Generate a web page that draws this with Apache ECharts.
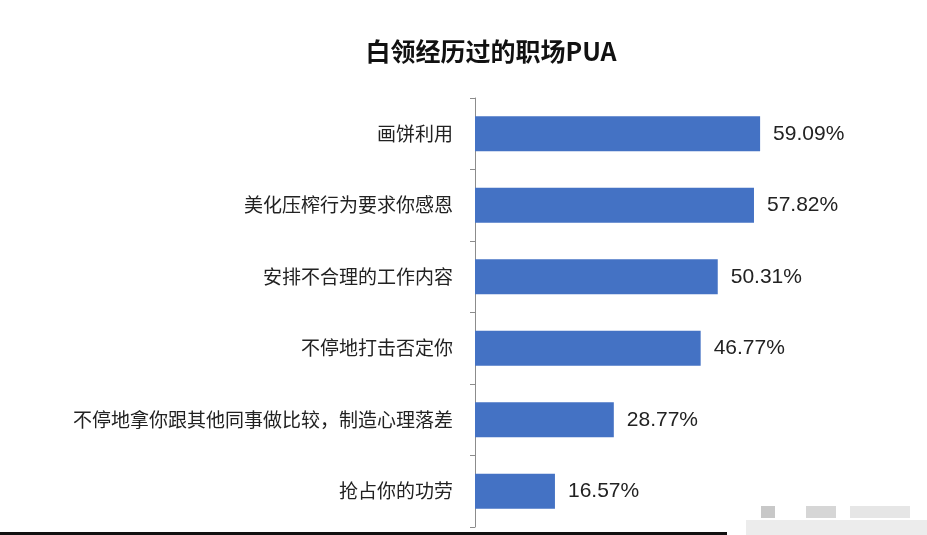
<!DOCTYPE html>
<html>
<head>
<meta charset="utf-8">
<script src="https://cdn.jsdelivr.net/npm/echarts@6/dist/echarts.min.js"></script>
<style>
html,body{margin:0;padding:0;background:#fff;}
#chart{width:927px;height:535px;}
</style>
</head>
<body>
<div id="chart"></div>
<script>
const titleText = '白领经历过的职场PUA';
const categories = [
  '画饼利用',
  '美化压榨行为要求你感恩',
  '安排不合理的工作内容',
  '不停地打击否定你',
  '不停地拿你跟其他同事做比较，制造心理落差',
  '抢占你的功劳'
];
const values = [59.09, 57.82, 50.31, 46.77, 28.77, 16.57];

const chart = echarts.init(document.getElementById('chart'));
const font = '"Noto Sans CJK SC", "Noto Sans", sans-serif';
chart.setOption({
  backgroundColor: '#ffffff',
  animation: false,
  title: {
    text: titleText,
    left: 486,
    top: 34,
    textAlign: 'center',
    textStyle: { fontFamily: font, fontSize: 25, fontWeight: 'bold', color: '#111' }
  },
  grid: { left: 475, top: 98, width: 386, height: 429, containLabel: false, outerBoundsMode: 'none' },
  xAxis: {
    type: 'value', min: 0, max: 80, show: false
  },
  yAxis: {
    type: 'category',
    data: categories,
    inverse: true,
    axisLine: { show: true, lineStyle: { color: '#8c8c8c', width: 1 } },
    axisTick: { show: true, length: 5, lineStyle: { color: '#8c8c8c' } },
    axisLabel: { margin: 22, fontFamily: font, fontSize: 19, color: '#222' }
  },
  series: [{
    type: 'bar',
    data: values,
    barCategoryGap: '51%',
    itemStyle: { color: '#4472C4' },
    label: {
      show: true,
      position: 'right',
      distance: 13,
      fontFamily: '"Liberation Sans", Arial, sans-serif',
      fontSize: 21,
      color: '#222',
      formatter: p => p.value.toFixed(2) + '%'
    }
  }],
  graphic: [
    { type: 'rect', shape: { x: 0, y: 532, width: 727, height: 3 }, style: { fill: '#111' } },
    { type: 'rect', shape: { x: 761, y: 506, width: 14, height: 12 }, style: { fill: '#c8c8c8' } },
    { type: 'rect', shape: { x: 806, y: 506, width: 30, height: 12 }, style: { fill: '#d6d6d6' } },
    { type: 'rect', shape: { x: 850, y: 506, width: 60, height: 12 }, style: { fill: '#e6e6e6' } },
    { type: 'rect', shape: { x: 746, y: 520, width: 181, height: 15 }, style: { fill: '#ececec' } }
  ]
});
</script>
</body>
</html>
